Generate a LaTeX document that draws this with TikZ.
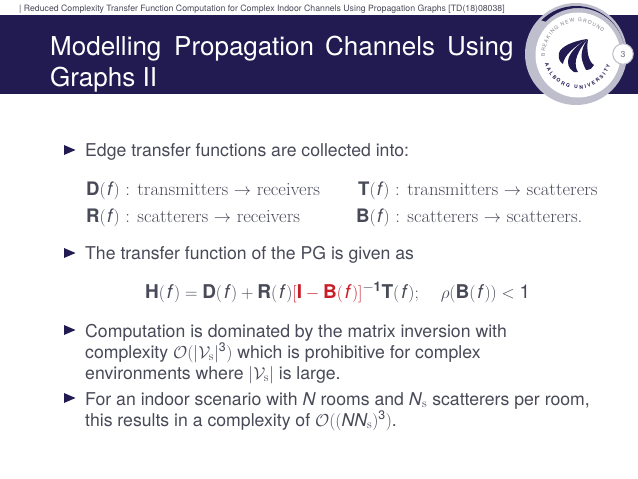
\documentclass[tikz,border=0pt]{standalone}
\usepackage{amsmath}
\usepackage{fontspec}
\setsansfont{TeX Gyre Heros}
\usetikzlibrary{decorations.text}
\definecolor{navy}{RGB}{33,27,82}
\definecolor{ringgray}{RGB}{190,190,205}
\definecolor{bodytext}{RGB}{72,74,88}
\definecolor{redtext}{RGB}{200,30,40}
\newcommand{\bb}[1]{\text{\sffamily\bfseries #1}}
\newcommand{\ff}{\text{\kern1.3pt\sffamily\itshape f\kern1.3pt}}
\newcommand{\ffe}{\text{\kern1.9pt\sffamily\itshape f\kern1.9pt}}
\tikzset{
  x=1pt,y=-1pt,
  body/.style={anchor=base west,inner sep=0pt,text=bodytext,font=\sffamily\fontsize{17.65}{21}\selectfont},
  mathline/.style={anchor=base west,inner sep=0pt,text=bodytext,font=\rmfamily\fontsize{18.6}{21}\selectfont},
  eqline/.style={anchor=base west,inner sep=0pt,text=bodytext,font=\rmfamily\fontsize{19}{21}\selectfont},
  heading/.style={anchor=base west,inner sep=0pt,text=white,font=\sffamily\fontsize{26}{30}\selectfont},
  tick/.style={fill=navy,draw=none},
}
\begin{document}
\begin{tikzpicture}
\useasboundingbox (0,0) rectangle (638,479);
\fill[white] (0,0) rectangle (638,479);
\fill[navy] (0,15) rectangle (638,94);
\node[anchor=base west,inner sep=0pt,text=bodytext,font=\sffamily\fontsize{8.72}{11}\selectfont] (top) at (19,11) {| Reduced Complexity Transfer Function Computation for Complex Indoor Channels Using Propagation Graphs [TD(18)08038]};
\node[heading] (t1) at (50,55) {Modelling};
\node[heading] (t2) at (174,55) {Propagation};
\node[heading] (t3) at (325,55) {Channels};
\node[heading] (t4) at (447,55) {Using};
\node[heading] (t6) at (50,86) {Graphs II};
% logo
\fill[ringgray] (576,54) circle (51);
\fill[white] (578,55) circle (42.5);
\fill[navy] (576,55) ++(225:49) arc (225:348:49) arc[start angle=348,end angle=225,radius=46.5] -- cycle;
\path[decorate,decoration={text along path,text align={fit to path},text={|\sffamily\fontsize{5}{6}\selectfont\color{bodytext!70}|BREAKING NEW GROUND}}] (578,55) ++(178:33) arc (178:317:33);
\path[decorate,decoration={text along path,text align={fit to path},text={|\sffamily\bfseries\fontsize{5}{6}\selectfont\color{navy}|AALBORG UNIVERSITY}}] (578,55) ++(166:34) arc (166:18:34);
\fill[navy] (587,39) .. controls (574,41) and (561,46) .. (559,53) .. controls (558,59) and (560,62) .. (563,64) .. controls (564,55) and (575,46) .. (587,39) -- cycle;
\fill[navy] (587,39) .. controls (577,45) and (568,54) .. (568,62) .. controls (568,67) and (571,70) .. (574,72) -- (578,72) .. controls (574,66) and (574,55) .. (587,40) -- cycle;
\fill[navy] (588,39) .. controls (582,46) and (580,56) .. (583,63) .. controls (584,66) and (585,68) .. (586,70) .. controls (590,70) and (593,68) .. (594,65) .. controls (589,62) and (586,52) .. (588,39) -- cycle;
\node[circle,draw=ringgray,fill=white,line width=1pt,minimum size=20.5pt,inner sep=0pt,text=bodytext!80,font=\sffamily\fontsize{8.7}{10}\selectfont] (page) at (623,54) {3};
% bullets
\fill[tick] (64,145) -- (75.5,150) -- (64,155) -- cycle;
\fill[tick] (64,248) -- (75.5,253) -- (64,258) -- cycle;
\fill[tick] (64,325) -- (75.5,330) -- (64,335) -- cycle;
\fill[tick] (64,393) -- (75.5,398) -- (64,403) -- cycle;
\node[body] (b1) at (85,156) {Edge transfer functions are collected into:};
\node[mathline] (m1) at (86,195) {$\bb{D}(\ff)$ : transmitters $\rightarrow$ receivers};
\node[mathline] (m2) at (358,195) {$\bb{T}(\ff)$ : transmitters $\rightarrow$ scatterers};
\node[mathline] (m3) at (86,222) {$\bb{R}(\ff)$ : scatterers $\rightarrow$ receivers};
\node[mathline] (m4) at (356,222) {$\bb{B}(\ff)$ : scatterers $\rightarrow$ scatterers.};
\node[body] (b2) at (85,259) {The transfer function of the PG is given as};
\node[eqline] (eq) at (145,298) {$\bb{H}(\ffe)=\bb{D}(\ffe)+\bb{R}(\ffe)\textcolor{redtext}{[\bb{I}-\bb{B}(\ffe)]}^{-\bb{1}}\bb{T}(\ffe);\quad\rho(\bb{B}(\ffe))<\text{\sffamily 1}$};
\node[body] (b3) at (85,337) {Computation is dominated by the matrix inversion with};
\node[body] (b4) at (85,358) {complexity $\mathcal{O}(|\mathcal{V}_{\mathrm{s}}|^{\text{\sffamily 3}})$ which is prohibitive for complex};
\node[body] (b5) at (85,379) {environments where $|\mathcal{V}_{\mathrm{s}}|$ is large.};
\node[body] (b6) at (85,405) {For an indoor scenario with \textit{N} rooms and \textit{N}$_{\mathrm{s}}$ scatterers per room,};
\node[body] (b7) at (85,426) {this results in a complexity of $\mathcal{O}((\text{\sffamily\itshape NN}_{\mathrm{s}})^{\text{\sffamily 3}})$.};
\end{tikzpicture}
\end{document}
